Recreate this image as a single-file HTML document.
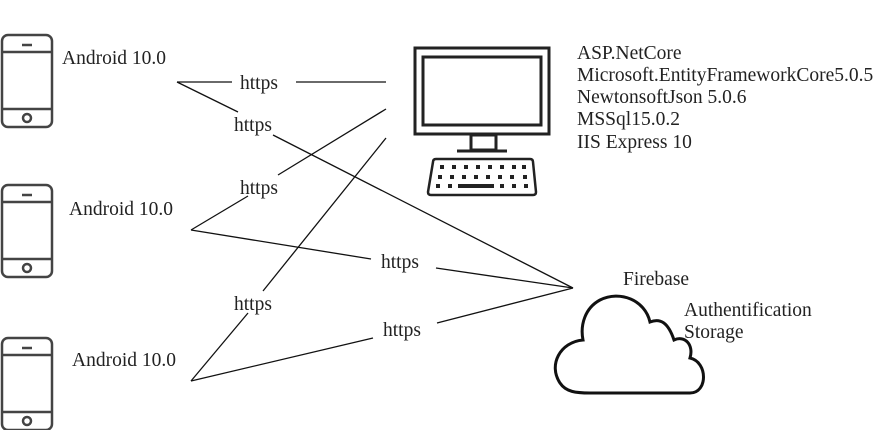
<!DOCTYPE html>
<html><head><style>
body{margin:0;background:#fff}
svg text{font-family:"Liberation Serif",serif;font-size:19.5px;fill:#222}
</style></head><body>
<svg width="884" height="430" viewBox="0 0 884 430" xmlns="http://www.w3.org/2000/svg">
<g fill="none" stroke="#444" stroke-width="2.5">
<g id="ph">
<rect x="2" y="35" width="50" height="92" rx="6"/>
<line x1="2" y1="52" x2="52" y2="52"/>
<line x1="2" y1="109" x2="52" y2="109"/>
<line x1="22" y1="45" x2="32" y2="45"/>
<circle cx="27" cy="118" r="4"/>
</g>
<use href="#ph" y="150"/>
<use href="#ph" y="303"/>
</g>
<g stroke="#111" stroke-width="1.3" fill="none">
<line x1="177" y1="82" x2="232" y2="82"/>
<line x1="296" y1="82" x2="386" y2="82"/>
<line x1="177" y1="82" x2="238" y2="112"/>
<line x1="273" y1="135" x2="573" y2="288"/>
<line x1="191" y1="230" x2="248" y2="196"/>
<line x1="278" y1="175" x2="386" y2="109"/>
<line x1="191" y1="230" x2="371" y2="259"/>
<line x1="436" y1="268" x2="573" y2="288"/>
<line x1="191" y1="381" x2="248" y2="313"/>
<line x1="263" y1="291" x2="386" y2="138"/>
<line x1="191" y1="381" x2="373" y2="338"/>
<line x1="437" y1="323" x2="573" y2="288"/>
</g>
<g fill="none" stroke="#222">
<rect x="415" y="48" width="134" height="86" stroke-width="3"/>
<rect x="423" y="57" width="118" height="68" stroke-width="3"/>
<rect x="471" y="135" width="25" height="15" stroke-width="3"/>
<line x1="457" y1="151" x2="507" y2="151" stroke-width="3"/>
<path d="M436 159 L530 159 Q533 159 533 162 L536 192 Q536 195 533 195 L431 195 Q428 195 428 192 L433 162 Q433 159 436 159 Z" stroke-width="2.5"/>
</g>
<g fill="#222">
<rect x="440" y="165" width="4" height="4"/><rect x="452" y="165" width="4" height="4"/><rect x="464" y="165" width="4" height="4"/><rect x="476" y="165" width="4" height="4"/><rect x="488" y="165" width="4" height="4"/><rect x="500" y="165" width="4" height="4"/><rect x="512" y="165" width="4" height="4"/><rect x="522" y="165" width="4" height="4"/>
<rect x="438" y="175" width="4" height="4"/><rect x="450" y="175" width="4" height="4"/><rect x="462" y="175" width="4" height="4"/><rect x="474" y="175" width="4" height="4"/><rect x="486" y="175" width="4" height="4"/><rect x="498" y="175" width="4" height="4"/><rect x="510" y="175" width="4" height="4"/><rect x="523" y="175" width="4" height="4"/>
<rect x="436" y="184" width="4" height="4"/><rect x="448" y="184" width="4" height="4"/><rect x="458" y="184" width="36" height="4"/><rect x="500" y="184" width="4" height="4"/><rect x="512" y="184" width="4" height="4"/><rect x="524" y="184" width="4" height="4"/>
</g>
<path d="M590 393 L690 393 C708 393 708 362 690 358 C694 345 685 335 674 340 C668 322 660 318 650 322 C645 300 620 290 600 300 C585 308 580 325 583 340 C560 342 548 365 560 383 C566 392 576 393 590 393 Z" fill="none" stroke="#111" stroke-width="3"/>
<text x="62" y="64">Android 10.0</text>
<text x="69" y="215">Android 10.0</text>
<text x="72" y="366">Android 10.0</text>
<text x="240" y="89">https</text>
<text x="234" y="131">https</text>
<text x="240" y="194">https</text>
<text x="381" y="268">https</text>
<text x="234" y="310">https</text>
<text x="383" y="336">https</text>
<text x="577" y="59">ASP.NetCore</text>
<text x="577" y="81">Microsoft.EntityFrameworkCore5.0.5</text>
<text x="577" y="103">NewtonsoftJson 5.0.6</text>
<text x="577" y="125">MSSql15.0.2</text>
<text x="577" y="148">IIS Express 10</text>
<text x="623" y="285">Firebase</text>
<text x="684" y="316">Authentification</text>
<text x="684" y="338">Storage</text>
</svg>
</body></html>
